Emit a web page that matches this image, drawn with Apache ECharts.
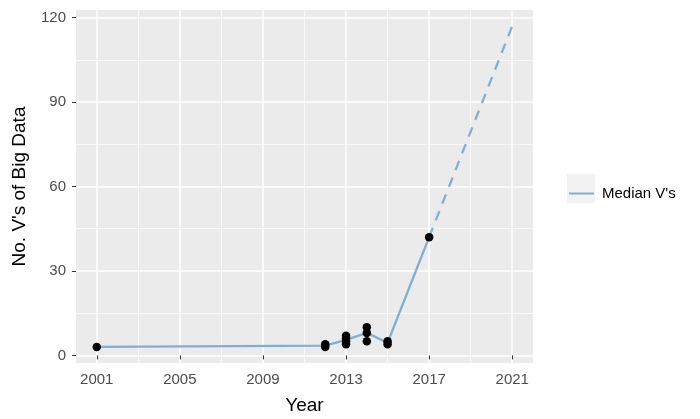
<!DOCTYPE html>
<html>
<head>
<meta charset="utf-8">
<script src="https://cdn.jsdelivr.net/npm/echarts@6/dist/echarts.min.js"></script>
<style>
  html, body { margin: 0; padding: 0; background: #fff; }
  #chart { width: 700px; height: 419px; }
</style>
</head>
<body>
<div id="chart"></div>
<script>
// observed V counts per paper, by year
var pointYears = [2001, 2012, 2012, 2013, 2013, 2013, 2013, 2014, 2014, 2014, 2015, 2015, 2017];
var pointValues = [3, 3, 4, 4, 5, 6, 7, 5, 8, 10, 4, 5, 42];

// median line
var medianYears = [2001, 2012, 2013, 2014, 2015, 2017];
var medianValues = [3, 3.5, 5.5, 8, 4.5, 42];

// projected part (dashed)
var projYears = [2017, 2021];
var projValues = [42, 117];

// ticks
var xMajor = [2001, 2005, 2009, 2013, 2017, 2021];
var xMinor = [2003, 2007, 2011, 2015, 2019];
var yMajor = [0, 30, 60, 90, 120];
var yMinor = [15, 45, 75, 105];

var lineColor = '#80afd6';
var FONT = 'Liberation Sans, Arial, sans-serif';

var chartDom = document.getElementById('chart');
var myChart = echarts.init(chartDom);

function pairs(xs, ys) {
  return xs.map(function (x, i) { return [x, ys[i]]; });
}
function plain(v) { return String(v); }

var xBase = { type: 'value', min: 2000, max: 2022 };
var yBase = { type: 'value', min: -2.7, max: 122.7 };

var option = {
  animation: false,
  backgroundColor: '#ffffff',
  grid: {
    left: 76, right: 167, top: 10, bottom: 56,
    outerBoundsMode: 'none',
    containLabel: false,
    show: true, backgroundColor: '#ebebeb', borderWidth: 0
  },
  xAxis: [
    Object.assign({}, xBase, {
      position: 'bottom',
      name: 'Year',
      nameLocation: 'middle',
      nameGap: 33,
      nameTextStyle: { fontFamily: FONT, fontSize: 19, color: '#000' },
      axisLine: { show: false },
      axisTick: { show: true, length: 4, customValues: xMajor, lineStyle: { color: '#333', width: 1 } },
      axisLabel: { customValues: xMajor, formatter: plain, color: '#4d4d4d', fontFamily: FONT, fontSize: 15, margin: 9 },
      splitLine: { show: true, lineStyle: { color: '#ffffff', width: 1.5 } }
    }),
    Object.assign({}, xBase, {
      position: 'top',
      axisLine: { show: false },
      axisTick: { show: false, customValues: xMinor },
      axisLabel: { show: false, customValues: xMinor },
      splitLine: { show: true, lineStyle: { color: '#ffffff', width: 0.7 } }
    })
  ],
  yAxis: [
    Object.assign({}, yBase, {
      position: 'left',
      name: "No. V's of Big Data",
      nameLocation: 'middle',
      nameGap: 47,
      nameRotate: 90,
      nameTextStyle: { fontFamily: FONT, fontSize: 19, color: '#000' },
      axisLine: { show: false },
      axisTick: { show: true, length: 4, customValues: yMajor, lineStyle: { color: '#333', width: 1 } },
      axisLabel: { customValues: yMajor, formatter: plain, color: '#4d4d4d', fontFamily: FONT, fontSize: 15, margin: 10 },
      splitLine: { show: true, lineStyle: { color: '#ffffff', width: 1.5 } }
    }),
    Object.assign({}, yBase, {
      position: 'right',
      axisLine: { show: false },
      axisTick: { show: false, customValues: yMinor },
      axisLabel: { show: false, customValues: yMinor },
      splitLine: { show: true, lineStyle: { color: '#ffffff', width: 0.7 } }
    })
  ],
  legend: {
    left: 564, top: 181,
    itemWidth: 25, itemHeight: 2,
    itemGap: 0,
    textStyle: { fontFamily: FONT, fontSize: 15, color: '#000', padding: [0, 0, 0, 3] },
    data: [{ name: "Median V's", icon: 'rect' }]
  },
  graphic: [
    { type: 'rect', left: 567, top: 174, shape: { width: 28, height: 29 }, style: { fill: '#f2f2f2' }, z: 0 }
  ],
  series: [
    {
      name: "Median V's",
      type: 'line',
      data: pairs(medianYears, medianValues),
      symbol: 'none',
      lineStyle: { color: lineColor, width: 2.3 },
      itemStyle: { color: lineColor },
      z: 2
    },
    {
      name: 'Projection',
      type: 'line',
      data: pairs(projYears, projValues),
      symbol: 'none',
      lineStyle: { color: lineColor, width: 2.3, type: [10, 8] },
      itemStyle: { color: lineColor },
      z: 2
    },
    {
      name: 'Points',
      type: 'scatter',
      data: pairs(pointYears, pointValues),
      symbolSize: 8.5,
      itemStyle: { color: '#000', opacity: 1 },
      z: 3
    }
  ]
};

option && myChart.setOption(option);
</script>
</body>
</html>
